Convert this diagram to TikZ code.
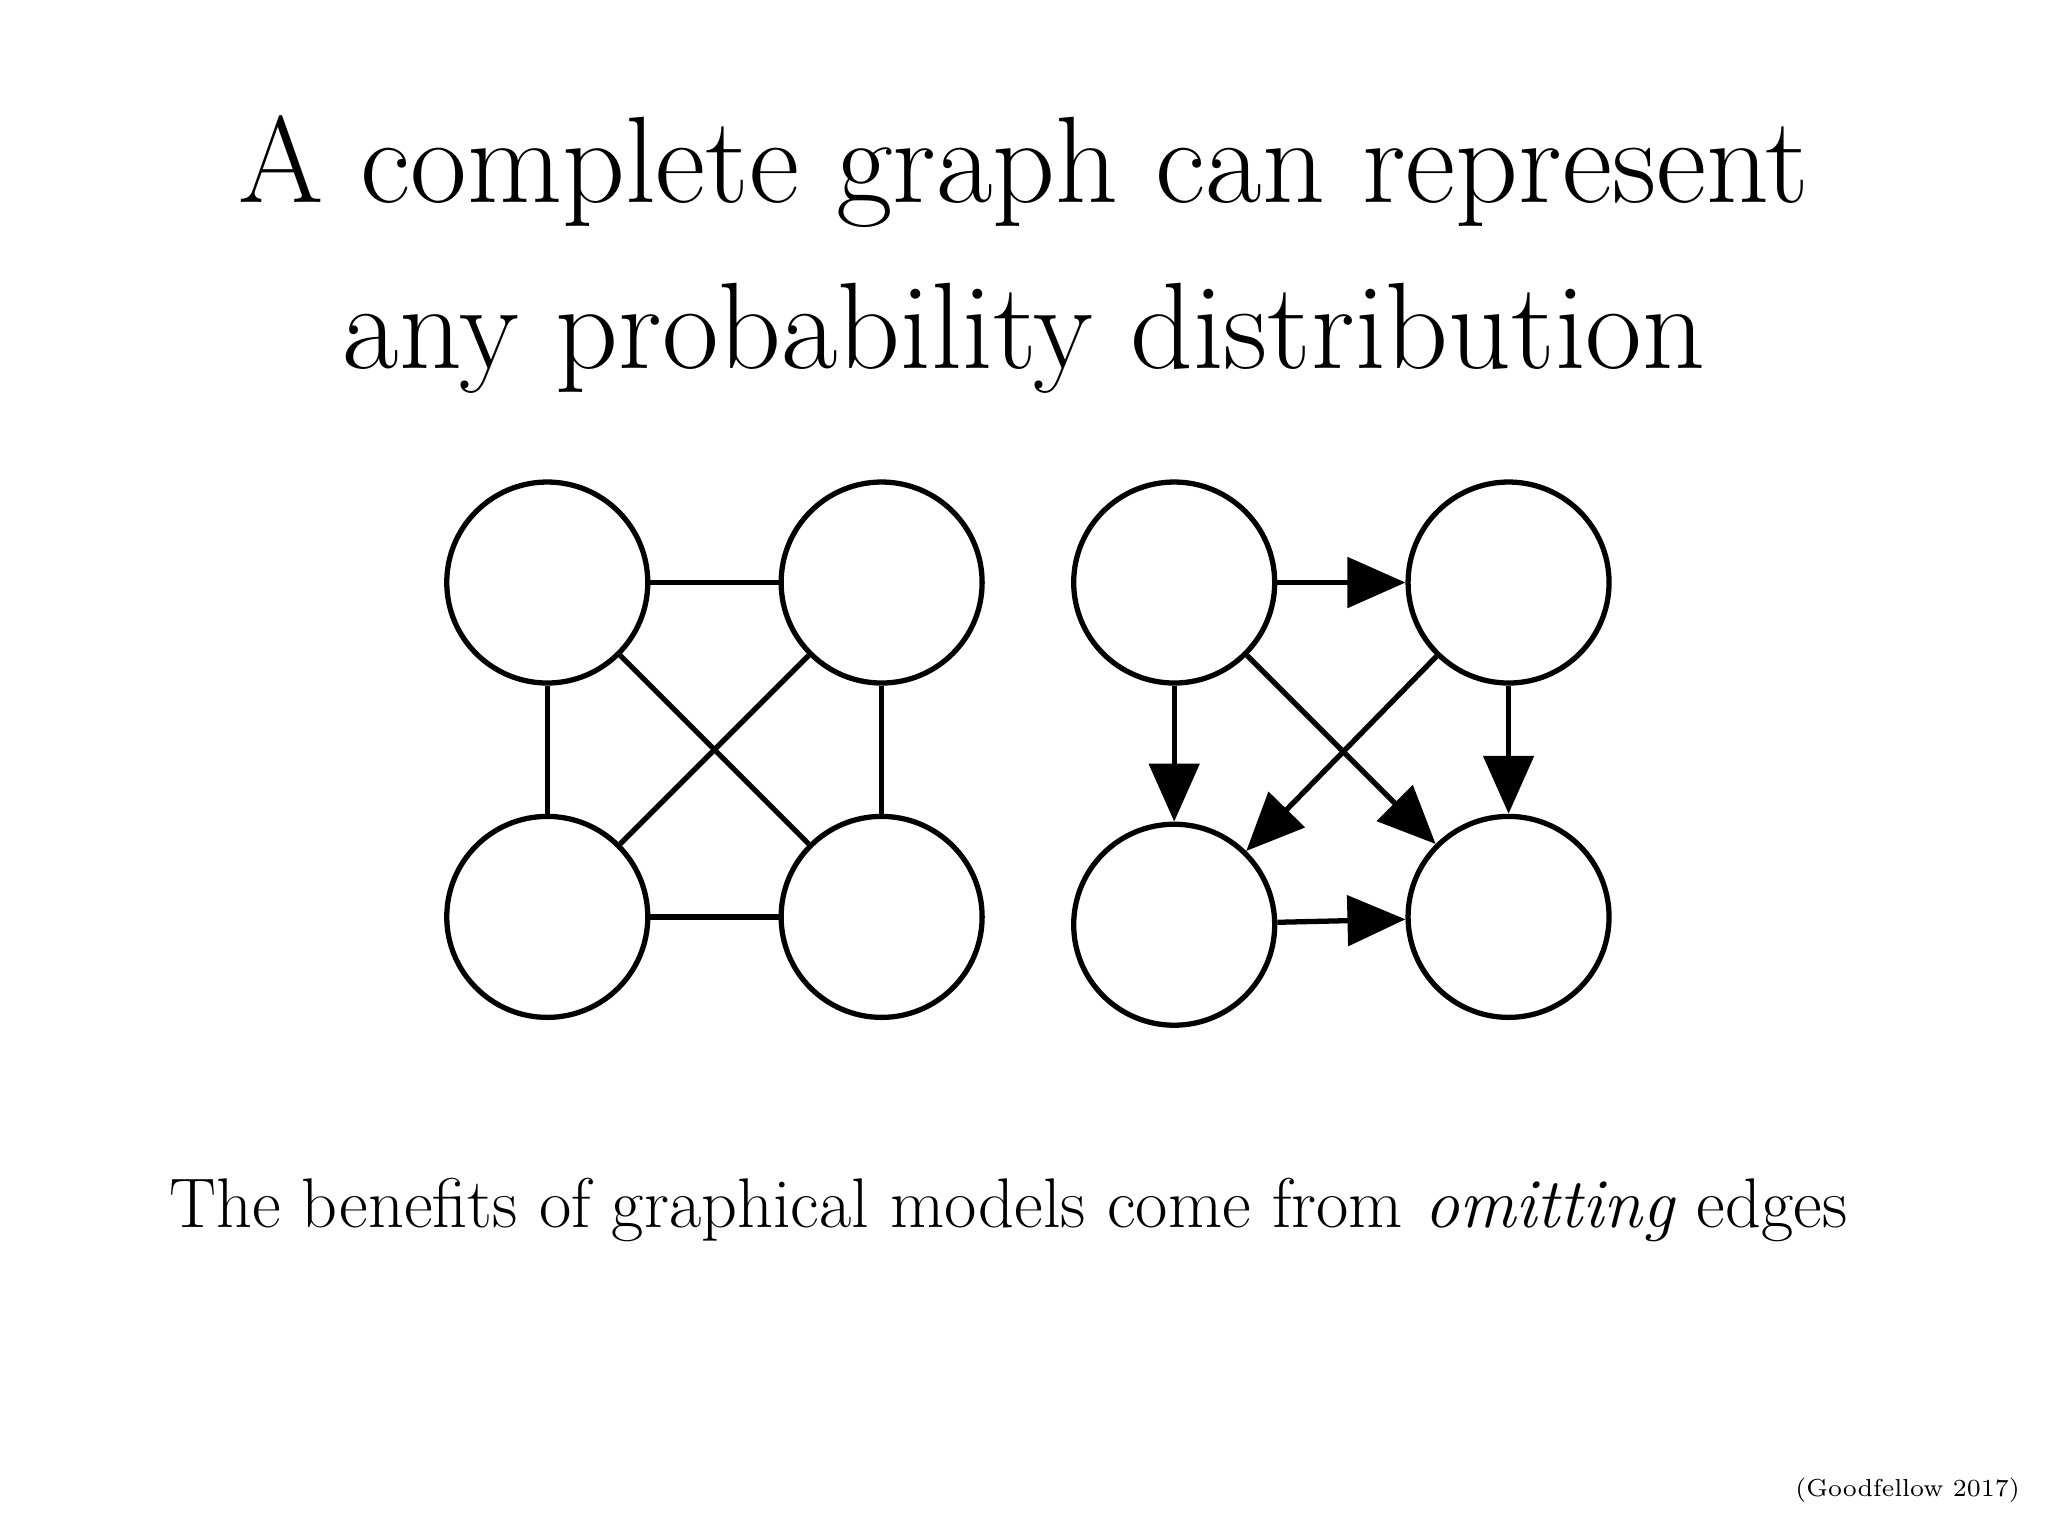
\documentclass[tikz,border=0pt]{standalone}
\usetikzlibrary{arrows.meta}
\begin{document}
\begin{tikzpicture}[x=0.013061cm,y=-0.013061cm,
  vnode/.style={circle,draw,line width=1.5pt,minimum size=2.01cm,inner sep=0pt},
  edge/.style={line width=1.5pt},
  arr/.style={line width=1.5pt,-{Triangle[length=0.58cm,width=0.5cm]}}]
\useasboundingbox (0,0) rectangle (1568,1176);
\node[font=\fontsize{35}{47}\selectfont,align=center,anchor=base] (t1) at (784,155) {A complete graph can represent};
\node[font=\fontsize{35}{47}\selectfont,align=center,anchor=base] (t2) at (784,282) {any probability distribution};
\node (a) [vnode] at (419,446) {};
\node (b) [vnode] at (675,446) {};
\node (c) [vnode] at (419,702) {};
\node (d) [vnode] at (675,702) {};
\draw[edge] (a)--(b); \draw[edge] (a)--(c); \draw[edge] (a)--(d);
\draw[edge] (b)--(c); \draw[edge] (b)--(d); \draw[edge] (c)--(d);
\node (e) [vnode] at (899,446) {};
\node (f) [vnode] at (1155,446) {};
\node (g) [vnode] at (899,708) {};
\node (h) [vnode] at (1155,702) {};
\draw[arr] (e)--(f); \draw[arr] (e)--(g); \draw[arr] (e)--(h);
\draw[arr] (f)--(g); \draw[arr] (f)--(h); \draw[arr] (g)--(h);
\node[font=\fontsize{20}{24}\selectfont,anchor=base] (s) at (772,940) {The benefits of graphical models come from \emph{omitting} edges};
\node[font=\fontsize{7}{8}\selectfont,anchor=base east] (r) at (1556,1146) {(Goodfellow 2017)};
\end{tikzpicture}
\end{document}
